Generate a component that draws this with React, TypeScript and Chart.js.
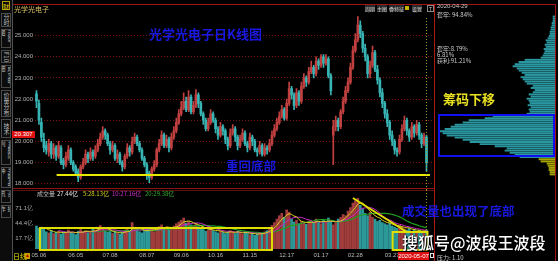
import React, { useEffect, useRef } from 'react';
import { Chart, registerables } from 'chart.js';
Chart.register(...registerables);

// ---- Daily K-line data (compressed) ----
const OPEN = [
  22.25,21.8,20.9,20.1,19.8,19.5,19.9,19.4,19.7,19.3,
  19.7,19.1,18.9,19.2,19.6,19.0,18.8,18.6,18.3,18.8,
  19.0,19.4,19.2,19.5,19.3,19.6,19.9,20.2,20.5,20.3,
  19.9,19.6,19.8,19.2,19.4,19.0,18.8,19.3,19.7,19.5,
  20.0,20.2,19.9,19.6,19.2,18.9,18.5,18.3,18.7,18.9,
  19.6,19.9,20.3,19.8,20.1,19.7,20.2,20.5,20.9,21.3,
  21.6,21.9,21.5,22.1,21.4,21.7,22.2,21.8,21.3,21.0,
  20.6,20.9,21.3,21.0,20.6,20.3,20.7,20.5,20.1,19.8,
  20.4,20.6,20.2,19.8,20.1,20.4,19.9,19.7,20.2,20.0,
  19.6,19.5,19.8,19.4,19.7,19.6,19.9,20.3,20.6,20.9,
  21.2,21.5,21.1,21.8,22.5,22.2,21.7,22.3,21.9,22.6,
  23.0,22.8,23.3,23.5,23.2,23.8,23.6,24.0,23.7,23.9,
  23.1,20.3,20.7,21.0,20.7,21.4,21.9,22.4,22.8,23.5,
  24.3,24.8,25.5,25.1,24.4,24.0,23.2,23.6,24.2,23.4,
  22.9,22.3,21.8,21.3,20.9,20.3,20.0,19.6,19.5,20.1,
  20.6,21.0,20.5,20.2,20.7,20.4,20.8,20.3,19.9,20.2,
];
const CLOSE = [
  21.9,21.0,20.2,19.7,19.6,19.9,19.4,19.7,19.3,19.8,
  19.0,18.9,19.3,19.6,19.0,18.7,18.5,18.3,18.8,19.0,
  19.4,19.2,19.5,19.3,19.6,19.9,20.2,20.5,20.3,19.9,
  19.6,19.8,19.2,19.4,19.0,18.8,19.3,19.7,19.5,20.0,
  20.2,19.9,19.6,19.2,18.9,18.4,18.3,18.7,18.9,19.6,
  19.9,20.3,19.8,20.1,19.7,20.2,20.5,20.9,21.3,21.6,
  21.9,21.5,22.1,21.4,21.7,22.2,21.8,21.3,21.0,20.6,
  20.9,21.3,21.0,20.6,20.3,20.7,20.5,20.1,19.8,20.4,
  20.6,20.2,19.8,20.1,20.4,19.9,19.7,20.2,20.0,19.6,
  19.5,19.8,19.4,19.7,19.6,19.9,20.3,20.6,20.9,21.2,
  21.5,21.1,21.8,22.5,22.2,21.7,22.3,21.9,22.6,23.0,
  22.8,23.3,23.5,23.2,23.8,23.6,24.0,23.7,23.9,23.1,
  22.4,20.7,21.0,20.7,21.4,21.9,22.4,22.8,23.5,24.3,
  24.8,25.5,25.1,24.4,24.0,23.2,23.6,24.2,23.4,22.9,
  22.3,21.8,21.3,20.9,20.3,20.0,19.6,19.5,20.1,20.6,
  21.0,20.5,20.2,20.7,20.4,20.8,20.3,19.9,20.2,19.0,
];
const HIGH = [
  22.4,21.95,21.1,20.4,20.0,20.1,20.0,19.9,19.8,20.0,
  19.8,19.2,19.5,19.8,19.7,19.1,18.9,18.7,18.9,19.2,
  19.6,19.5,19.7,19.6,19.8,20.1,20.4,20.7,20.6,20.4,
  20.0,20.0,19.9,19.6,19.5,19.1,19.4,19.9,19.8,20.2,
  20.4,20.3,20.0,19.7,19.3,19.0,18.6,18.8,19.1,19.7,
  20.1,20.5,20.4,20.3,20.2,20.4,20.7,21.1,21.5,21.9,
  22.3,22.1,22.4,22.2,21.9,22.45,22.3,21.9,21.4,21.1,
  21.1,21.5,21.4,21.1,20.7,20.9,20.8,20.6,20.2,20.6,
  20.8,20.7,20.3,20.3,20.6,20.5,20.0,20.4,20.3,20.1,
  19.7,20.0,19.9,19.9,19.8,20.1,20.5,20.8,21.1,21.4,
  21.7,21.6,22.0,22.8,22.6,22.3,22.5,22.4,22.8,23.2,
  23.1,23.5,23.8,23.6,24.0,23.9,24.1,24.1,24.1,24.0,
  23.2,21.0,21.2,21.1,21.5,22.1,22.6,23.0,23.7,24.5,
  25.1,25.9,25.7,25.2,24.6,24.1,23.8,24.5,24.3,23.6,
  23.0,22.5,21.9,21.5,21.0,20.5,20.1,19.7,20.3,20.8,
  21.2,21.1,20.6,20.9,20.8,21.0,20.9,20.4,20.4,20.3,
];
const LOW = [
  21.6,20.8,20.0,19.5,19.4,19.3,19.2,19.2,19.1,19.2,
  18.9,18.7,18.8,19.1,18.9,18.6,18.4,18.1,18.2,18.7,
  18.9,19.0,19.1,19.1,19.2,19.5,19.8,20.1,20.1,19.8,
  19.4,19.5,19.1,19.0,18.9,18.6,18.7,19.2,19.3,19.4,
  19.9,19.8,19.5,19.1,18.8,18.2,18.05,18.2,18.6,18.8,
  19.5,19.8,19.7,19.7,19.5,19.6,20.1,20.4,20.8,21.2,
  21.5,21.4,21.4,21.3,21.3,21.6,21.6,21.2,20.8,20.5,
  20.5,20.8,20.9,20.4,20.1,20.2,20.3,19.9,19.6,19.7,
  20.3,20.0,19.6,19.7,20.0,19.8,19.5,19.6,19.8,19.5,
  19.3,19.4,19.3,19.3,19.4,19.5,19.8,20.2,20.5,20.8,
  21.1,21.0,21.0,21.7,22.0,21.5,21.6,21.7,21.8,22.5,
  22.6,22.7,23.2,23.0,23.1,23.4,23.5,23.5,23.6,23.0,
  22.2,18.9,20.5,20.5,20.6,21.3,21.8,22.3,22.7,23.4,
  24.2,24.7,24.9,24.2,23.8,23.0,23.0,23.5,23.3,22.7,
  22.1,21.6,21.1,20.7,20.1,19.8,19.4,19.3,19.4,20.0,
  20.5,20.3,20.0,20.1,20.2,20.3,20.1,19.7,19.8,18.6,
];
// volume in 亿
const VOLUME = [
  40,36,38,34,30,28,32,27,29,31,
  26,30,28,33,29,27,25,31,34,30,
  32,28,30,35,33,38,41,36,32,29,
  31,27,30,28,26,29,33,35,31,46,
  38,34,30,28,32,35,37,33,30,36,
  39,42,36,38,34,37,40,44,47,50,
  54,45,48,42,40,44,39,36,34,31,
  33,36,32,30,28,31,29,27,30,32,
  29,27,31,28,26,30,28,25,27,24,
  26,29,27,30,32,35,41,46,52,58,
  62,55,68,64,52,47,50,44,48,46,
  43,49,47,45,52,48,44,50,46,54,
  48,42,45,52,55,60,58,66,72,80,
  84,88,76,70,62,58,64,55,52,48,
  50,46,44,42,45,40,38,36,41,39,
  35,33,36,31,34,30,32,29,31,33,
];
const PRICE_TICKS = [18, 19, 20, 21, 22, 23, 24, 25];
const VOL_TICKS = [17.7, 44.4, 71.1];
const DATE_LABELS = ['05.06','06.05','07.08','08.07','09.06','10.16','11.15','12.17','01.17','02.28','03.27'];
const DATE_INDEX = [1, 16, 30, 45, 59, 73, 87, 102, 116, 130, 145];

// chip distribution (筹码分布)
const CHIP_PRICE = [
  18.6,18.7,18.8,18.9,19.0,19.1,19.2,19.3,19.4,19.5,
  19.6,19.7,19.8,19.9,20.0,20.1,20.2,20.3,20.4,20.5,
  20.6,20.7,20.8,20.9,21.0,21.1,21.2,21.3,21.4,21.5,
  21.6,21.7,21.8,21.9,22.0,22.1,22.2,22.3,22.4,22.5,
  22.6,22.7,22.8,22.9,23.0,23.1,23.2,23.3,23.4,23.5,
  23.6,23.7,23.8,23.9,24.0,24.1,24.2,24.3,24.4,24.5,
  24.6,24.7,24.8,24.9,25.0,25.1,25.2,25.3,25.4,25.5,
  25.6,25.7,25.8,25.9,
];
const CHIP_AMOUNT = [
  5,5,6,6,7,8,14,16,35,40,
  45,50,48,60,75,85,92,100,108,112,
  115,110,104,100,92,86,70,62,28,25,
  26,24,27,25,26,28,24,26,22,20,
  24,22,28,30,32,34,30,33,36,38,
  42,40,36,30,14,12,11,10,11,9,
  10,8,9,7,6,5,5,4,4,3,
  3,2,2,2,
];
const PROFIT_PRICE = 19.3;
const SUPPORT_PRICE = 18.41;

// ---- styling / layout ----
const UP = '#c04040';
const DN = '#38b4b4';
const VUP = '#a03c3c';
const VDN = '#2c9898';
const NUM_FONT = 'Liberation Sans, Arial, sans-serif';
const CJK = '"Noto Sans CJK SC", sans-serif';
const X_MIN = -0.61;
const X_MAX = 162.06;
const P_MIN = 17.97;
const P_MAX = 26.02;
const V_MAX = 92.2;

const IDX = CLOSE.map((_, i) => i);
const isUp = (i: number) => CLOSE[i] >= OPEN[i];

function movingAvg(arr: number[], n: number) {
  const out: { x: number; y: number }[] = [];
  for (let i = n - 1; i < arr.length; i++) {
    let s = 0;
    for (let k = i - n + 1; k <= i; k++) s += arr[k];
    out.push({ x: i, y: s / n });
  }
  return out;
}

const priceOverlay = {
  id: 'priceOverlay',
  afterDatasetsDraw(chart: any) {
    const { ctx, scales, chartArea } = chart;
    const x = scales.x, y = scales.y;
    ctx.save();
    ctx.strokeStyle = '#e8e800';
    ctx.lineWidth = 2;
    const yy = Math.round(y.getPixelForValue(SUPPORT_PRICE));
    ctx.beginPath();
    ctx.moveTo(x.getPixelForValue(8.2), yy);
    ctx.lineTo(x.getPixelForValue(160.4), yy);
    ctx.stroke();
    const cx = Math.round(x.getPixelForValue(CLOSE.length - 1)) + 0.5;
    ctx.strokeStyle = '#a0a020';
    ctx.lineWidth = 1;
    ctx.setLineDash([1, 2]);
    ctx.beginPath();
    ctx.moveTo(cx, chartArea.top + 4);
    ctx.lineTo(cx, chart.height);
    ctx.stroke();
    ctx.restore();
  },
};

const volOverlay = {
  id: 'volOverlay',
  afterDatasetsDraw(chart: any) {
    const { ctx, scales } = chart;
    const x = scales.x, y = scales.y;
    ctx.save();
    const cx = Math.round(x.getPixelForValue(CLOSE.length - 1)) + 0.5;
    ctx.strokeStyle = '#a0a020';
    ctx.lineWidth = 1;
    ctx.setLineDash([1, 2]);
    ctx.beginPath();
    ctx.moveTo(cx, 0);
    ctx.lineTo(cx, y.getPixelForValue(0));
    ctx.stroke();
    ctx.setLineDash([]);
    ctx.strokeStyle = '#e0e000';
    ctx.lineWidth = 2;
    const box = (i0: number, i1: number, v0: number, v1: number) => {
      const l = x.getPixelForValue(i0), r = x.getPixelForValue(i1);
      const t = y.getPixelForValue(v1), b = y.getPixelForValue(v0);
      ctx.strokeRect(l, t, r - l, b - t);
    };
    box(1.4, 96, -1.7, 36.5);
    box(145.2, 159.4, -1.7, 29.6);
    ctx.beginPath();
    ctx.moveTo(x.getPixelForValue(129), y.getPixelForValue(88.7));
    ctx.lineTo(x.getPixelForValue(151), y.getPixelForValue(29.6));
    ctx.stroke();
    ctx.restore();
  },
};

function priceConfig(): any {
  return {
    type: 'bar',
    data: {
      datasets: [
        {
          data: IDX.map((i) => ({ x: i, y: [LOW[i], HIGH[i]] })),
          backgroundColor: IDX.map((i) => (isUp(i) ? UP : DN)),
          barThickness: 1,
          grouped: false,
          order: 2,
        },
        {
          data: IDX.map((i) => ({ x: i, y: [Math.min(OPEN[i], CLOSE[i]), Math.max(OPEN[i], CLOSE[i])] })),
          backgroundColor: IDX.map((i) => (isUp(i) ? UP : DN)),
          barThickness: 2,
          minBarLength: 1,
          grouped: false,
          order: 1,
        },
      ],
    },
    options: {
      responsive: false,
      animation: false,
      devicePixelRatio: 1,
      layout: { padding: { top: 14, bottom: 2, right: 2, left: 0 } },
      plugins: { legend: { display: false }, tooltip: { enabled: false } },
      scales: {
        x: { type: 'linear', min: X_MIN, max: X_MAX, offset: false, display: false, grid: { offset: false } },
        y: {
          type: 'linear',
          min: P_MIN,
          max: P_MAX,
          afterFit: (s: any) => { s.width = 35; },
          afterBuildTicks: (s: any) => { s.ticks = PRICE_TICKS.map((v) => ({ value: v })); },
          ticks: {
            callback: (v: any) => Number(v).toFixed(3),
            color: '#b0b0b0',
            font: { size: 6, family: NUM_FONT },
            padding: 2,
          },
          grid: { color: '#7a1414', drawTicks: false, lineWidth: 1 },
          border: { display: false, dash: [1, 2] },
        },
      },
    },
    plugins: [priceOverlay],
  };
}

function volumeConfig(): any {
  return {
    type: 'bar',
    data: {
      datasets: [
        { type: 'line', data: movingAvg(VOLUME, 5), borderColor: '#d8d020', borderWidth: 1, pointRadius: 0, order: 0 },
        { type: 'line', data: movingAvg(VOLUME, 10), borderColor: '#c828c8', borderWidth: 1, pointRadius: 0, order: 0 },
        { type: 'line', data: movingAvg(VOLUME, 20), borderColor: '#20a020', borderWidth: 1.2, pointRadius: 0, order: 0 },
        {
          type: 'bar',
          data: IDX.map((i) => ({ x: i, y: VOLUME[i] })),
          backgroundColor: IDX.map((i) => (isUp(i) ? VUP : VDN)),
          barThickness: 2,
          grouped: false,
          order: 5,
        },
      ],
    },
    options: {
      responsive: false,
      animation: false,
      devicePixelRatio: 1,
      layout: { padding: { top: 6, bottom: 0, right: 2, left: 0 } },
      plugins: { legend: { display: false }, tooltip: { enabled: false } },
      scales: {
        x: {
          type: 'linear',
          min: X_MIN,
          max: X_MAX,
          offset: false,
          afterFit: (s: any) => { s.height = 12; },
          afterBuildTicks: (s: any) => { s.ticks = DATE_INDEX.map((v) => ({ value: v })); },
          ticks: {
            autoSkip: false,
            maxRotation: 0,
            callback: (_v: any, k: number) => DATE_LABELS[k],
            color: '#b8b8b8',
            font: { size: 6, family: NUM_FONT },
            padding: 3,
          },
          grid: { display: false, drawTicks: false, offset: false },
          border: { display: false },
        },
        y: {
          type: 'linear',
          min: 0,
          max: V_MAX,
          afterFit: (s: any) => { s.width = 35; },
          afterBuildTicks: (s: any) => { s.ticks = VOL_TICKS.map((v) => ({ value: v })); },
          ticks: {
            callback: (v: any) => Number(v).toFixed(1) + '亿',
            color: '#b0b0b0',
            font: { size: 6, family: NUM_FONT },
            padding: 2,
          },
          grid: { display: false, drawTicks: false },
          border: { display: false },
        },
      },
    },
    plugins: [volOverlay],
  };
}

function chipConfig(): any {
  return {
    type: 'bar',
    data: {
      datasets: [
        {
          data: CHIP_PRICE.map((p, k) => ({ x: CHIP_AMOUNT[k], y: p })),
          backgroundColor: CHIP_PRICE.map((p) => (p <= PROFIT_PRICE ? '#a8a400' : '#2a96a0')),
          barThickness: 1.3,
        },
      ],
    },
    options: {
      indexAxis: 'y',
      responsive: false,
      animation: false,
      devicePixelRatio: 1,
      layout: { padding: { top: 14, bottom: 2, right: 3, left: 0 } },
      plugins: { legend: { display: false }, tooltip: { enabled: false } },
      scales: {
        x: { type: 'linear', min: 0, max: 119, reverse: true, display: false },
        y: { type: 'linear', min: P_MIN, max: P_MAX, offset: false, display: false, grid: { offset: false } },
      },
    },
  };
}

function ChartCanvas({ left, top, width, height, build }: any) {
  const ref = useRef<HTMLCanvasElement>(null);
  useEffect(() => {
    const chart = new Chart(ref.current as HTMLCanvasElement, build());
    return () => chart.destroy();
  }, []);
  return (
    <canvas
      ref={ref}
      width={width}
      height={height}
      style={{ position: 'absolute', left, top, width, height }}
    />
  );
}

const abs = (l: number, t: number, extra: any = {}) => ({ position: 'absolute' as const, left: l, top: t, ...extra });

const SIDE_BUTTONS: [number, number, string][] = [
  [13, 27, '分时'], [29, 48, '走势图'], [50, 63, 'F10'], [65, 88, '成交明细'],
  [90, 117, '价量分布'], [119, 138, '技术'], [140, 165, '多股同列'], [167, 188, '关联品种'],
  [190, 203, '资讯'], [205, 218, '操作'],
];

export default function App() {
  useEffect(() => {
    document.body.style.margin = '0';
    document.body.style.background = '#000';
  }, []);
  const small = { fontSize: 6, lineHeight: '7px', fontFamily: CJK, whiteSpace: 'nowrap' as const };
  const blueNote = { fontFamily: CJK, fontSize: 12.5, lineHeight: '16px', fontWeight: 700, color: '#1818e0', whiteSpace: 'nowrap' as const };
  return (
    <div style={{ position: 'fixed', left: 0, top: 0, width: 558, height: 261, background: '#000', overflow: 'hidden' }}>
      {/* sidebar */}
      <div style={abs(0, 0, { width: 12, height: 261, background: '#0c0c0c', borderRight: '1px solid #505050' })} />
      <div style={abs(2, 1, { width: 8, height: 9, border: '1px solid #b0a000', color: '#e0d000', fontSize: 6, lineHeight: '9px', textAlign: 'center', fontFamily: CJK, boxSizing: 'border-box' })}>财</div>
      {SIDE_BUTTONS.map(([t0, t1, label]) => (
        <div key={label} style={abs(1, t0, {
          width: 10, height: t1 - t0, border: '1px solid #4a4a4a', boxSizing: 'border-box',
          color: '#bdbdbd', fontSize: 6, lineHeight: '8px', fontFamily: CJK, writingMode: 'vertical-rl',
          display: 'flex', alignItems: 'center', justifyContent: 'center', overflow: 'hidden',
        })}>{label}</div>
      ))}

      {/* frame lines */}
      <div style={abs(13, 4, { width: 543, height: 1, background: '#a01414' })} />
      <div style={abs(13, 188, { width: 421, height: 1, background: '#8a1414' })} />
      <div style={abs(13, 190, { width: 421, height: 1, background: '#5a1010' })} />
      <div style={abs(434, 4, { width: 1, height: 257, background: '#b01818' })} />
      <div style={abs(555, 4, { width: 1, height: 257, background: '#a01414' })} />

      <ChartCanvas left={0} top={0} width={436} height={190} build={priceConfig} />
      <ChartCanvas left={0} top={190} width={436} height={71} build={volumeConfig} />
      <ChartCanvas left={436} top={0} width={122} height={190} build={chipConfig} />

      {/* title and toolbar */}
      <div style={abs(14, 5, { ...small, fontSize: 7, lineHeight: '8px', color: '#d8c060' })}>光学光电子</div>
      {[['周期', 365], ['主图', 377], ['叠特征', 389], ['设置', 412]].map(([t, l]: any) => (
        <div key={t} style={abs(l, 5, { ...small, fontSize: 5, color: '#d0d0d0', background: '#2a2a2a' })}>{t}</div>
      ))}
      <div style={abs(405, 6, { width: 4, height: 4, background: '#c8b000' })} />
      <div style={abs(427, 5, { ...small, fontSize: 5, color: '#d0d0d0', border: '1px solid #888', lineHeight: '5px', padding: '0 1px' })}>T</div>

      {/* price crosshair label */}
      <div style={abs(12, 131, { width: 23, height: 7, background: '#e01010', color: '#fff', fontSize: 6, lineHeight: '7px', fontFamily: NUM_FONT, textAlign: 'center' })}>20.307</div>

      {/* volume header */}
      <div style={abs(37, 190, { ...small, color: '#c0c0c0' })}>成交量</div>
      <div style={abs(57, 190, { ...small, color: '#e8e8e8' })}>27.44亿</div>
      <div style={abs(83, 190, { ...small, color: '#d0d020' })}>5:28.13亿</div>
      <div style={abs(112, 190, { ...small, color: '#d030d0' })}>10:27.16亿</div>
      <div style={abs(145, 190, { ...small, color: '#30b030' })}>20:29.38亿</div>

      {/* bottom bar */}
      <div style={abs(13, 252, { ...small, fontSize: 7, lineHeight: '8px', color: '#e8e000' })}>日线</div>
      <div style={abs(25, 253, { width: 5, height: 6, background: '#c8a000', color: '#c00000', fontSize: 5, lineHeight: '6px', textAlign: 'center' })}>▲</div>
      <div style={abs(398, 252, { width: 31, height: 8, background: '#e01010', color: '#fff', fontSize: 6, lineHeight: '8px', fontFamily: NUM_FONT, textAlign: 'center' })}>2020-05-07</div>
      <div style={abs(430, 253, { width: 4, height: 5, border: '1px solid #e0e0e0', boxSizing: 'border-box' })} />

      {/* chip panel texts */}
      <div style={abs(437, 3, { ...small, color: '#c8c8c8', fontFamily: NUM_FONT })}>2020-04-29</div>
      <div style={abs(437, 11, { ...small, color: '#c8c8c8' })}>套牢: 94.84%</div>
      <div style={abs(437, 45, { ...small, color: '#c8c8c8' })}>套牢:8.79%</div>
      <div style={abs(437, 51, { ...small, color: '#c8c8c8' })}>6.81%</div>
      <div style={abs(437, 57, { ...small, color: '#c8c8c8' })}>获利:91.21%</div>
      <div style={abs(437, 254, { ...small, color: '#c8c8c8' })}>压力: 1.10</div>
      <div style={abs(438, 114, { width: 117, height: 43, border: '2px solid #1010f0', boxSizing: 'border-box' })} />

      {/* annotations */}
      <div style={abs(149, 26, { ...blueNote, fontSize: 13 })}>光学光电子日K线图</div>
      <div style={abs(226, 158, blueNote)}>重回底部</div>
      <div style={abs(443, 91, { fontFamily: CJK, fontSize: 13, lineHeight: '16px', fontWeight: 700, color: '#e8e020', whiteSpace: 'nowrap' })}>筹码下移</div>
      <div style={abs(402, 203, blueNote)}>成交量也出现了底部</div>
      <div style={abs(402, 233, { fontFamily: CJK, fontSize: 16, lineHeight: '19px', fontWeight: 500, color: '#ffffff', whiteSpace: 'nowrap', textShadow: '0 0 2px #000, 1px 1px 1px #000' })}>搜狐号@波段王波段</div>
    </div>
  );
}
